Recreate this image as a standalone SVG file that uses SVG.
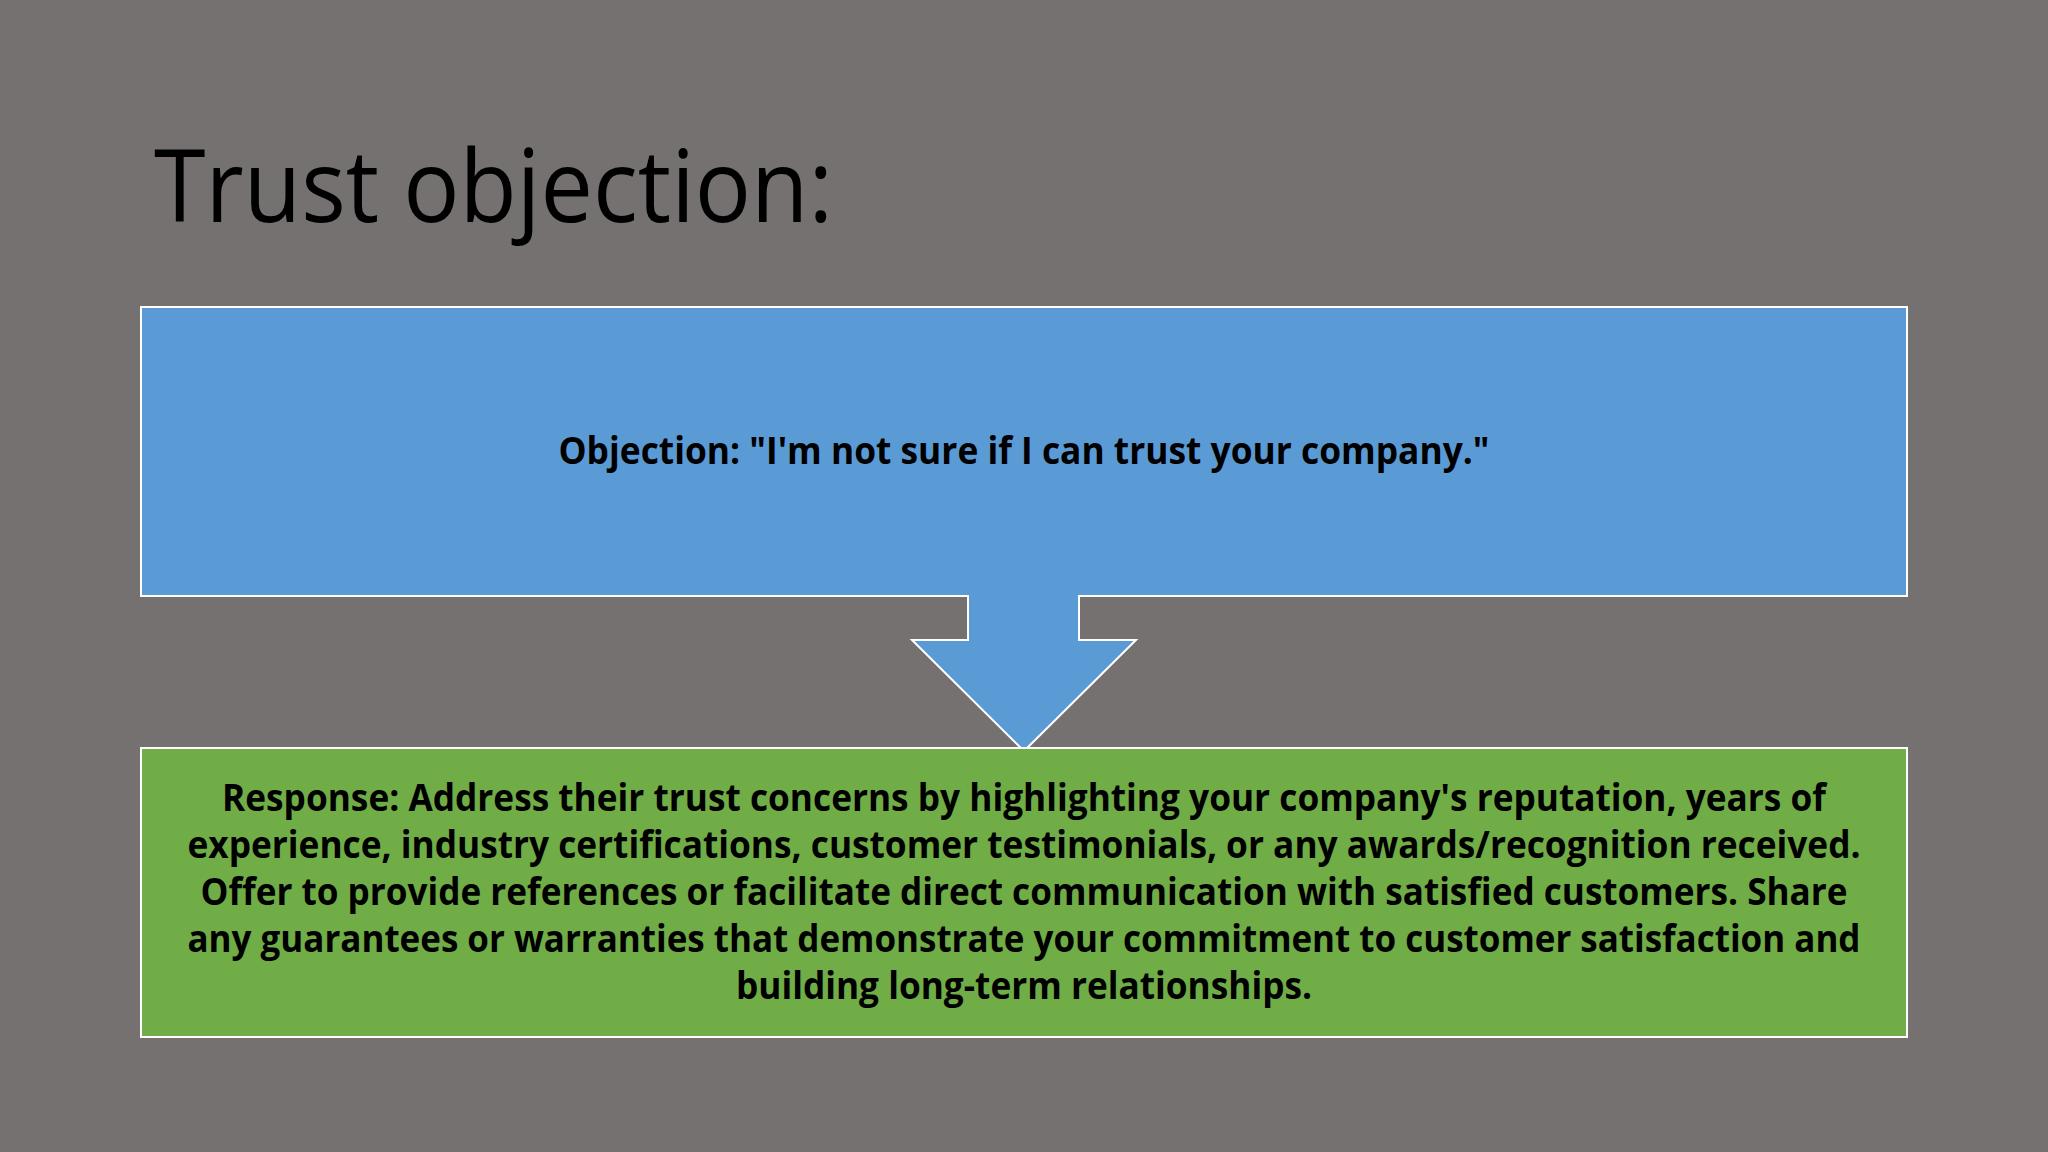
<svg xmlns="http://www.w3.org/2000/svg" width="2048" height="1152" viewBox="0 0 2048 1152">
<style>
.t{font-family:"Open Sans","Liberation Sans",sans-serif;font-weight:bold;font-size:37px;fill:#000;text-anchor:middle}
</style>
<rect width="2048" height="1152" fill="#767171"/>
<text x="154" y="222" font-family="Open Sans, Liberation Sans, sans-serif" font-size="100" textLength="679" lengthAdjust="spacingAndGlyphs" fill="#000">Trust objection:</text>
<g id="objection">
<path d="M141 307H1907V596H1079V640H1136L1024 751L912 640H968V596H141Z" fill="#5B9BD5" stroke="#fff" stroke-width="2"/>
<text class="t" x="1024" y="464" textLength="931" lengthAdjust="spacingAndGlyphs">Objection: "I'm not sure if I can trust your company."</text>
</g>
<g id="response">
<rect x="141" y="748" width="1766" height="289" fill="#70AD47" stroke="#fff" stroke-width="2"/>
<text class="t" x="1024" y="811" textLength="1604" lengthAdjust="spacingAndGlyphs">Response: Address their trust concerns by highlighting your company's reputation, years of</text>
<text class="t" x="1024" y="858" textLength="1673" lengthAdjust="spacingAndGlyphs">experience, industry certifications, customer testimonials, or any awards/recognition received.</text>
<text class="t" x="1024" y="905" textLength="1647" lengthAdjust="spacingAndGlyphs">Offer to provide references or facilitate direct communication with satisfied customers. Share</text>
<text class="t" x="1024" y="952" textLength="1673" lengthAdjust="spacingAndGlyphs">any guarantees or warranties that demonstrate your commitment to customer satisfaction and</text>
<text class="t" x="1024" y="999" textLength="576" lengthAdjust="spacingAndGlyphs">building long-term relationships.</text>
</g>
<g id="connectors"/>
</svg>
